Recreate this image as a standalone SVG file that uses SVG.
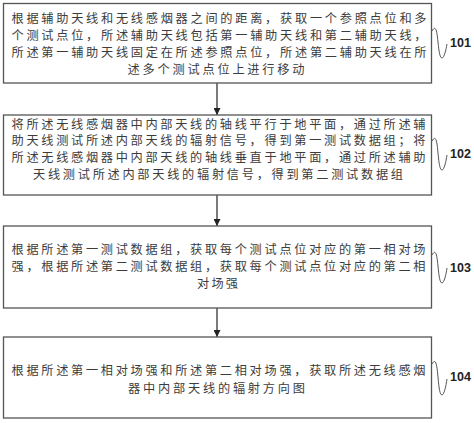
<svg xmlns="http://www.w3.org/2000/svg" width="474" height="423" viewBox="0 0 474 423">
<defs>
<style>
.box{fill:#fff;stroke:#555;stroke-width:1.3}
.t{font-family:"Noto Sans CJK SC","Noto Sans CJK JP",sans-serif;font-size:12.2px;fill:#3c3c3c}
.c{text-anchor:middle}
.lab{font-family:"Liberation Sans",Arial,sans-serif;font-size:12.5px;font-weight:bold;fill:#222}
.wave{fill:none;stroke:#555;stroke-width:1}
.conn{stroke:#333;stroke-width:1.3;fill:none}
</style>
<marker id="ah" viewBox="0 0 10 10" refX="10" refY="5" markerWidth="7" markerHeight="7" markerUnits="userSpaceOnUse" orient="auto">
<path d="M0,0 L10,5 L0,10 z" fill="#222"/>
</marker>
</defs>
<rect width="474" height="423" fill="#fff"/>
<g id="connectors">
<line class="conn" x1="217" y1="83" x2="217" y2="115" marker-end="url(#ah)"/>
<line class="conn" x1="217" y1="195" x2="217" y2="226" marker-end="url(#ah)"/>
<line class="conn" x1="217" y1="308" x2="217" y2="337" marker-end="url(#ah)"/>
</g>
<g id="node101">
<rect class="box" x="3.5" y="3.5" width="428" height="79.5"/>
<text class="t" x="11.5" y="23" textLength="415" lengthAdjust="spacing">根据辅助天线和无线感烟器之间的距离，获取一个参照点位和多</text>
<text class="t" x="11.5" y="40" textLength="415" lengthAdjust="spacing">个测试点位，所述辅助天线包括第一辅助天线和第二辅助天线，</text>
<text class="t" x="11.5" y="57" textLength="415" lengthAdjust="spacing">所述第一辅助天线固定在所述参照点位，所述第二辅助天线在所</text>
<text class="t c" x="216" y="73.5" textLength="177" lengthAdjust="spacing">述多个测试点位上进行移动</text>
<path class="wave" d="M432,31 C436,24 437,32 438,42 C439,52 440,58 442,58 C444,58 446,50 447,44"/>
<text class="lab" x="450" y="47">101</text>
</g>
<g id="node102">
<rect class="box" x="3.5" y="115" width="428" height="80"/>
<text class="t" x="11.5" y="128.5" textLength="414" lengthAdjust="spacing">将所述无线感烟器中内部天线的轴线平行于地平面，通过所述辅</text>
<text class="t" x="11.5" y="145" textLength="414" lengthAdjust="spacing">助天线测试所述内部天线的辐射信号，得到第一测试数据组；将</text>
<text class="t" x="11.5" y="162" textLength="414" lengthAdjust="spacing">所述无线感烟器中内部天线的轴线垂直于地平面，通过所述辅助</text>
<text class="t c" x="218" y="178.5" textLength="370" lengthAdjust="spacing">天线测试所述内部天线的辐射信号，得到第二测试数据组</text>
<path class="wave" d="M432,141 C436,134 437,142 438,153 C439,164 440,170 442,170 C444,170 446,162 447,155"/>
<text class="lab" x="450" y="158">102</text>
</g>
<g id="node103">
<rect class="box" x="3.5" y="226" width="428" height="82"/>
<text class="t" x="11.5" y="253.5" textLength="414" lengthAdjust="spacing">根据所述第一测试数据组，获取每个测试点位对应的第一相对场</text>
<text class="t" x="11.5" y="271" textLength="414" lengthAdjust="spacing">强，根据所述第二测试数据组，获取每个测试点位对应的第二相</text>
<text class="t c" x="217.5" y="288" textLength="41" lengthAdjust="spacing">对场强</text>
<path class="wave" d="M432,255 C436,248 437,256 438,266 C439,277 440,283 442,283 C444,283 446,275 447,268"/>
<text class="lab" x="450" y="272">103</text>
</g>
<g id="node104">
<rect class="box" x="3.5" y="337" width="428" height="81"/>
<text class="t" x="11.5" y="375" textLength="414" lengthAdjust="spacing">根据所述第一相对场强和所述第二相对场强，获取所述无线感烟</text>
<text class="t c" x="216.5" y="393" textLength="177" lengthAdjust="spacing">器中内部天线的辐射方向图</text>
<path class="wave" d="M432,364 C436,357 437,366 438,377 C439,389 440,395 442,395 C444,395 446,386 447,379"/>
<text class="lab" x="450" y="381">104</text>
</g>
</svg>
